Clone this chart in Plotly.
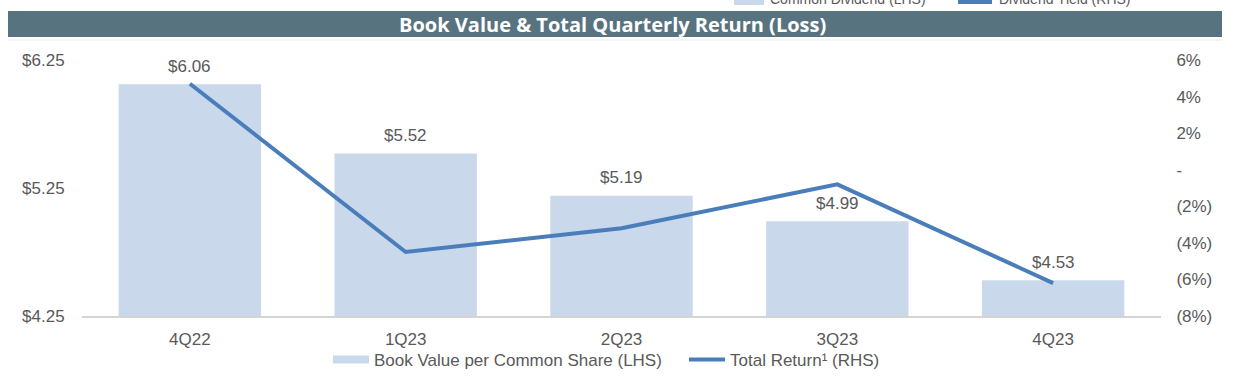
import plotly.graph_objects as go

quarters = ["4Q22", "1Q23", "2Q23", "3Q23", "4Q23"]
book_value = [6.06, 5.52, 5.19, 4.99, 4.53]
total_return = [4.7, -4.5, -3.2, -0.8, -6.2]

left_ticks = [4.25, 5.25, 6.25]
left_ticktext = ["$4.25", "$5.25", "$6.25"]
right_ticks = [-8, -6, -4, -2, 0, 2, 4, 6]
right_ticktext = ["(8%)", "(6%)", "(4%)", "(2%)", "-", "2%", "4%", "6%"]

W, H = 1241, 380
ML, MR, MT, MB = 82, 80, 60, 64
PW, PH = W - ML - MR, H - MT - MB

def px_x(px):
    return (px - ML) / PW

def px_y(py):
    return (H - MB - py) / PH

GRAY = "#595959"
FONT = "Liberation Sans, Arial, sans-serif"
BAR = "#c9d8eb"
LINE = "#4a7ebb"

fig = go.Figure()
fig.add_trace(go.Bar(
    x=quarters, y=book_value, name="Book Value per Common Share (LHS)",
    marker=dict(color=BAR, line=dict(width=0)),
    width=0.66, showlegend=False,
))
# legend proxy giving the flat wide swatch of the reference legend
fig.add_trace(go.Scatter(
    x=[None], y=[None], mode="lines", name="Book Value per Common Share (LHS)",
    line=dict(color=BAR, width=8),
))
fig.add_trace(go.Scatter(
    x=quarters, y=total_return, name="Total Return¹ (RHS)", yaxis="y2",
    mode="lines", line=dict(color=LINE, width=4),
))

shapes = [
    dict(type="rect", xref="paper", yref="paper",
         x0=px_x(8), x1=px_x(1222), y0=px_y(37), y1=px_y(11),
         fillcolor="#587380", line=dict(width=0), layer="below"),
    dict(type="line", xref="paper", yref="paper",
         x0=px_x(8), x1=px_x(1222), y0=px_y(40), y1=px_y(40),
         line=dict(color="#e6ece6", width=1)),
    # remnants of a cropped legend above
    dict(type="rect", xref="paper", yref="paper",
         x0=px_x(734), x1=px_x(764), y0=px_y(5), y1=px_y(-6),
         fillcolor=BAR, line=dict(width=0)),
    dict(type="line", xref="paper", yref="paper",
         x0=px_x(958), x1=px_x(992), y0=px_y(2), y1=px_y(2),
         line=dict(color=LINE, width=4)),
]

annotations = [
    dict(text="<b>Book Value & Total Quarterly Return (Loss)</b>", xref="paper", yref="paper",
         x=px_x(612), y=px_y(24), xanchor="center", yanchor="middle", showarrow=False,
         font=dict(family="Open Sans, sans-serif", size=20, color="white")),
    dict(text="Common Dividend (LHS)", xref="paper", yref="paper",
         x=px_x(768), y=px_y(-1), xanchor="left", yanchor="middle", showarrow=False,
         font=dict(family=FONT, size=14, color=GRAY)),
    dict(text="Dividend Yield (RHS)", xref="paper", yref="paper",
         x=px_x(997), y=px_y(-1), xanchor="left", yanchor="middle", showarrow=False,
         font=dict(family=FONT, size=14, color=GRAY)),
]
for q, v in zip(quarters, book_value):
    annotations.append(dict(
        text=f"${v:.2f}", x=q, y=v, xref="x", yref="y", showarrow=False,
        yanchor="middle", yshift=18, font=dict(family=FONT, size=17, color=GRAY)))

fig.update_layout(
    width=W, height=H,
    margin=dict(l=ML, r=MR, t=MT, b=MB, pad=0, autoexpand=False),
    paper_bgcolor="white", plot_bgcolor="white",
    font=dict(family=FONT, size=17, color=GRAY),
    showlegend=True,
    legend=dict(orientation="h", x=px_x(328), xanchor="left", y=px_y(360), yanchor="middle",
                font=dict(size=17, color=GRAY), itemwidth=36, tracegroupgap=0,
                entrywidth=305, entrywidthmode="pixels",
                bgcolor="rgba(0,0,0,0)"),
    xaxis=dict(showgrid=False, showline=True, linecolor="#d4d4d4", linewidth=1.5,
               ticks="outside", ticklen=7, tickcolor="rgba(0,0,0,0)",
               tickfont=dict(size=17, color=GRAY), zeroline=False),
    yaxis=dict(range=[4.25, 6.25], tickvals=left_ticks, ticktext=left_ticktext,
               showgrid=False, zeroline=False, showline=False,
               ticks="outside", ticklen=13, tickcolor="rgba(0,0,0,0)",
               tickfont=dict(size=17, color=GRAY)),
    yaxis2=dict(range=[-8, 6], tickvals=right_ticks, ticktext=right_ticktext,
                overlaying="y", side="right", showgrid=False, zeroline=False,
                showline=False, ticks="outside", ticklen=11, tickcolor="rgba(0,0,0,0)",
                tickfont=dict(size=17, color=GRAY)),
    shapes=shapes, annotations=annotations,
)

fig.write_html("out.html", config={"displayModeBar": False},
               post_script="document.body.style.margin='0';document.body.style.overflow='hidden';")
